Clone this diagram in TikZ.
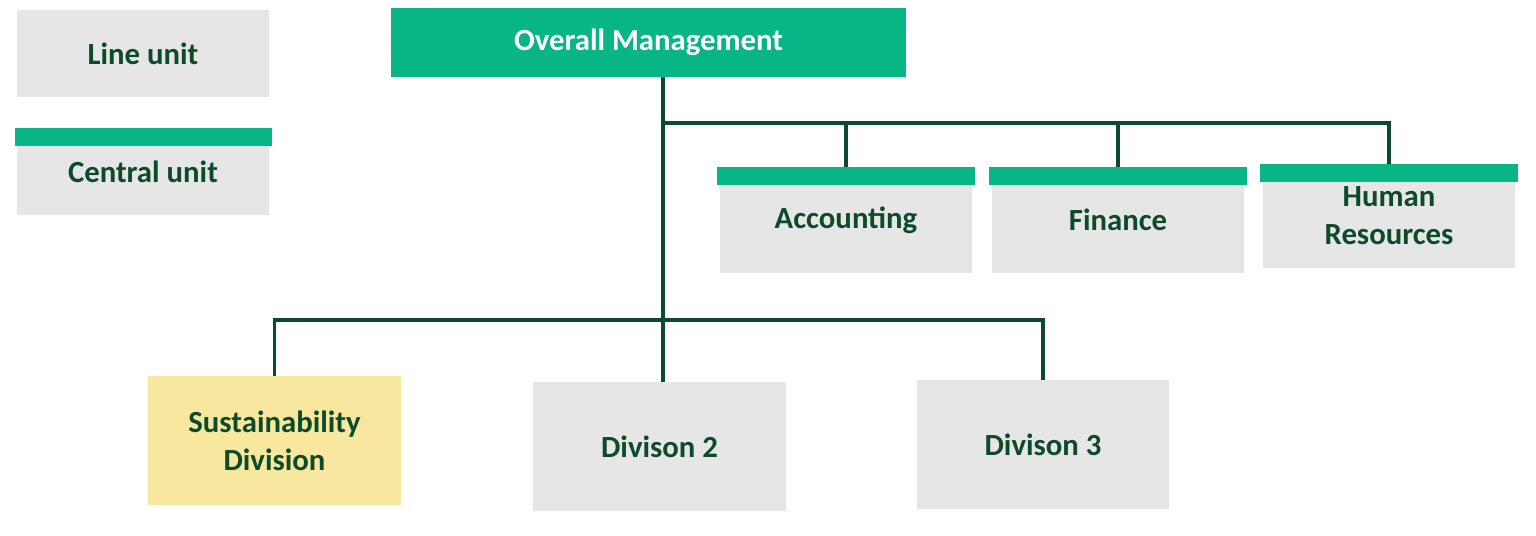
\documentclass[tikz,border=0pt]{standalone}
\usepackage{fontspec}
\setmainfont{Carlito}
\usepackage{xcolor}
\usepackage{tikz}
\usetikzlibrary{positioning}
\definecolor{unitgrey}{HTML}{E6E6E6}
\definecolor{centralgreen}{HTML}{07B585}
\definecolor{linegreen}{HTML}{0C4A2A}
\definecolor{sustyellow}{HTML}{F8E89F}

\begin{document}
\begin{tikzpicture}[font=\bfseries\fontsize{17.5}{21.6}\selectfont,
    unit/.style={fill=unitgrey, text=linegreen, inner sep=0pt, align=center,
        minimum width=5.04cm, minimum height=1.76cm},
    topbar/.style={fill=centralgreen, inner sep=0pt, minimum width=5.16cm, minimum height=0.35cm},
    link/.style={draw=linegreen, line width=2pt}]
    \useasboundingbox (0, 0) rectangle (30.72, 10.70);

    % Legend
    \node[unit, minimum height=1.74cm] (lineunit) at (2.86, 9.63) {Line unit};
    \node[unit, minimum height=1.74cm] (centralunit) at (2.86, 7.27) {Central unit};
    \node[topbar, minimum width=5.14cm, below=0pt of centralunit.north] (centralbar) {};

    % Management
    \node[fill=centralgreen, text=white, inner sep=0pt, minimum width=10.30cm, minimum height=1.38cm] (mgmt) at (12.97, 9.85) {Overall Management};

    % Central units
    \node[unit, minimum height=2.12cm] (acc) at (16.92, 6.30) {Accounting};
    \node[topbar, below=0pt of acc.north] (accbar) {};
    \node[unit, minimum height=2.12cm] (fin) at (22.36, 6.30) {Finance};
    \node[topbar, below=0pt of fin.north] (finbar) {};
    \node[unit, minimum height=2.08cm] (hr) at (27.78, 6.38) {Human\\Resources};
    \node[topbar, below=0pt of hr.north] (hrbar) {};

    % Divisions
    \node[unit, fill=sustyellow, minimum width=5.06cm, minimum height=2.58cm] (sust) at (5.49, 1.89) {Sustainability\\Division};
    \node[unit, minimum width=5.06cm, minimum height=2.58cm] (div2) at (13.19, 1.77) {Divison 2};
    \node[unit, minimum height=2.58cm] (div3) at (20.86, 1.81) {Divison 3};

    % Connectors
    \coordinate (upper) at (13.26, 8.24);
    \coordinate (lower) at (13.26, 4.30);
    \draw[link] (mgmt.south -| upper) -- (div2.north -| upper);
    \draw[link] (upper) -| (hrbar.north);
    \draw[link] (accbar.north) -- (accbar.north |- upper);
    \draw[link] (finbar.north) -- (finbar.north |- upper);
    \draw[link] (sust.north) |- (lower) -| (div3.north);
\end{tikzpicture}
\end{document}
